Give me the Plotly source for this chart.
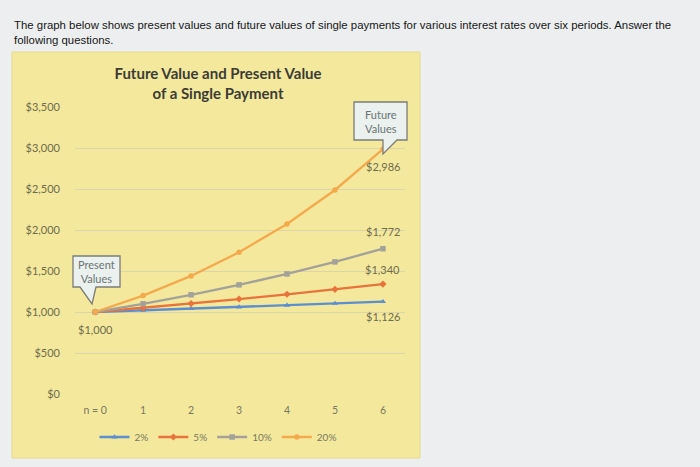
import plotly.graph_objects as go

periods = ["n = 0", "1", "2", "3", "4", "5", "6"]
rate_names = ["2%", "5%", "10%", "20%"]
fv_2 = [1000, 1020, 1040, 1061, 1082, 1104, 1126]
fv_5 = [1000, 1050, 1103, 1158, 1216, 1276, 1340]
fv_10 = [1000, 1100, 1210, 1331, 1464, 1611, 1772]
fv_20 = [1000, 1200, 1440, 1728, 2074, 2488, 2986]
y_ticks = [0, 500, 1000, 1500, 2000, 2500, 3000, 3500]
y_tick_text = ["$0", "$500", "$1,000", "$1,500", "$2,000", "$2,500", "$3,000", "$3,500"]

W, H = 700, 467
L, R, T, B = 75, 405, 107, 394  # plot area in pixels


def px(x):
    return (x - L) / (R - L)


def py(y):
    return (B - y) / (B - T)


series = [
    (rate_names[0], fv_2, "#5b8fd0", "triangle-up"),
    (rate_names[1], fv_5, "#e8733b", "diamond"),
    (rate_names[2], fv_10, "#a3a19a", "square"),
    (rate_names[3], fv_20, "#f4aa4c", "circle"),
]

fig = go.Figure()

for name, vals, colour, sym in series:
    fig.add_trace(
        go.Scatter(
            x=periods,
            y=vals,
            mode="lines+markers",
            name=name,
            line=dict(color=colour, width=2.3),
            marker=dict(color=colour, symbol=sym, size=5.5),
        )
    )

label_font = dict(family="Lato", size=11, color="#6f6c4c")

# data labels
fig.add_annotation(x=periods[0], y=fv_2[0], text="$1,000", showarrow=False,
                   yshift=-17, font=label_font)
fig.add_annotation(x=periods[6], y=fv_20[6], text="$2,986", showarrow=False,
                   yshift=-17, font=label_font)
fig.add_annotation(x=periods[6], y=fv_10[6], text="$1,772", showarrow=False,
                   yshift=17, font=label_font)
fig.add_annotation(x=periods[6], y=fv_5[6], text="$1,340", showarrow=False,
                   yshift=15, font=label_font)
fig.add_annotation(x=periods[6], y=fv_2[6], text="$1,126", showarrow=False,
                   yshift=-15, font=label_font)


def callout(box, tail, text):
    x0, y0, x1, y1 = box
    pts = [(x0, y0), (x1, y0), (x1, y1), tail[2], tail[1], tail[0], (x0, y1)]
    path = "M " + " L ".join(f"{px(a):.4f},{py(b):.4f}" for a, b in pts) + " Z"
    fig.add_shape(type="path", path=path, xref="paper", yref="paper",
                  fillcolor="#eaf1ee", line=dict(color="#7c7c78", width=1.3))
    fig.add_annotation(x=px((x0 + x1) / 2), y=py((y0 + y1) / 2),
                       xref="paper", yref="paper", xanchor="center", yanchor="middle",
                       text=text, showarrow=False,
                       font=dict(family="Lato", size=11, color="#6b7474"))


# speech-bubble callouts
callout((73, 256, 120, 287), [(80, 287), (92, 304), (96, 287)], "Present<br>Values")
callout((354, 102, 407, 140), [(383, 140), (383, 154), (397, 140)], "Future<br>Values")

# yellow chart panel
fig.add_shape(type="rect", xref="paper", yref="paper", layer="below",
              x0=px(12), x1=px(420), y0=py(458), y1=py(52),
              fillcolor="#f4e89d", line=dict(color="#e6da8c", width=1))

# question text
fig.add_annotation(x=px(12), y=py(17), xref="paper", yref="paper",
                   xanchor="left", yanchor="top", align="left", showarrow=False,
                   text="The graph below shows present values and future values of single payments "
                        "for various interest rates over six periods. Answer the<br>following questions.",
                   font=dict(family="Liberation Sans", size=11.4, color="#161616"))

fig.update_layout(
    width=W,
    height=H,
    margin=dict(l=L, r=W - R, t=T, b=H - B),
    paper_bgcolor="#eceef0",
    plot_bgcolor="rgba(0,0,0,0)",
    title=dict(
        text="<b>Future Value and Present Value<br>of a Single Payment</b>",
        xref="container", x=218 / W, xanchor="center",
        y=1 - 79 / H, yanchor="middle",
        font=dict(family="Lato", size=15, color="#3c3c36"),
    ),
    xaxis=dict(
        type="category",
        range=[-0.42, 6.46],
        showgrid=False,
        showline=False,
        zeroline=False,
        ticks="",
        ticklabelstandoff=8,
        tickfont=dict(family="Lato", size=10.5, color="#7a7860"),
    ),
    yaxis=dict(
        range=[0, 3500],
        tickvals=y_ticks,
        ticktext=y_tick_text,
        showgrid=True,
        gridcolor="#dcd5a8",
        gridwidth=1,
        zeroline=False,
        showline=False,
        ticks="",
        ticklabelstandoff=14,
        tickfont=dict(family="Lato", size=11, color="#6f6c4c"),
    ),
    legend=dict(
        orientation="h",
        x=px(218), xanchor="center",
        y=py(437), yanchor="middle",
        font=dict(family="Lato", size=10, color="#7a7860"),
        bgcolor="rgba(0,0,0,0)",
        itemwidth=30,
        tracegroupgap=0,
    ),
    showlegend=True,
)

fig.write_html("out.html", config={"displayModeBar": False},
               post_script="document.body.style.margin = '0';")
